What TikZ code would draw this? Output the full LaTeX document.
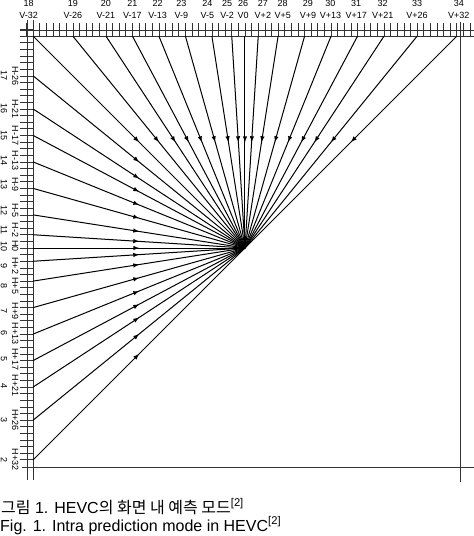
\documentclass[tikz,border=0pt]{standalone}
\usepackage{fontspec}
\setmainfont{Liberation Sans}
\newfontfamily\krfont{Noto Sans CJK KR}
\usetikzlibrary{decorations.markings}

\begin{document}
\begin{tikzpicture}[>=latex, x=6.62pt, y=6.62pt,
rulerline/.style={draw=black!80, line width=1.1pt},
rulertick/.style={draw=black!80, line width=.7pt},
modeline/.style={line width=1pt, postaction={decorate},
  decoration={markings, mark=at position .5 with {\arrow{>}}}},
lab/.style={font=\fontsize{9}{10}\selectfont, inner sep=0pt},
caption/.style={font=\fontsize{16}{18}\selectfont, anchor=base west, inner sep=0pt}]

\useasboundingbox (-245pt,-288pt) rectangle (229pt,248pt);

%%%%%%%% SETTINGS %%%%%%%%%%%%%
\pgfmathsetmacro{\Top}{32}
\pgfmathsetmacro{\Left}{-32}
%%%%%%%%%%%%%%%%%%%%%%%%%%%

\coordinate (c) at (0,0);

\foreach \i in {-33,...,34}{
  \draw[rulertick] (\i,\Top-.2) -- (\i,\Top+2);
}
\foreach \i in {-32,...,33}{
  \draw[rulertick] (\Left-2,\i) -- (\Left+.2,\i);
}
\draw[rulerline] (-34,\Top) -- (34.6,\Top);
\draw[rulerline] (-34,\Top+.9) -- (34.6,\Top+.9);
\draw[rulerline] (\Left,34.4) -- (\Left,-35);
\draw[rulerline] (\Left-.9,34.4) -- (\Left-.9,-35);
\draw[rulerline] (32.6,34.1) -- (32.6,-35.3);
\draw[rulerline] (-33.7,-33.2) -- (34.6,-33.2);

\foreach \m/\o/\l/\t in {18/-32/-32.7/V-32, 19/-26/-26/V-26, 20/-21/-21/V-21,
  21/-17/-17/V-17, 22/-13/-13.2/V-13, 23/-9/-9.6/V-9, 24/-5/-5.7/V-5,
  25/-2/-2.7/V-2, 26/0/-.3/V0, 27/2/2.7/V+2, 28/5/5.7/V+5, 29/9/9.5/V+9,
  30/13/12.9/V+13, 31/17/16.8/V+17, 32/21/20.8/V+21, 33/26/26/V+26, 34/32/32.3/V+32}{
  \coordinate (v\m) at (\o,\Top);
  \draw[modeline] (v\m) -- (c);
  \node[lab] (vl\m) at (\l,35.2) {\t};
  \node[lab] (vn\m) at (\l,36.9) {\m};
}

\foreach \m/\o/\l/\t in {17/26/26/H-26, 16/21/21/H-21, 15/17/17/H-17,
  14/13/13.2/H-13, 13/9/9.6/H-9, 12/5/5.7/H-5, 11/2/2.7/H-2, 10/0/.3/H0,
  9/-2/-2.7/H+2, 8/-5/-5.7/H+5, 7/-9/-9.5/H+9, 6/-13/-12.9/H+13,
  5/-17/-16.8/H+17, 4/-21/-20.8/H+21, 3/-26/-26/H+26, 2/-32/-32/H+32}{
  \coordinate (h\m) at (\Left,\o);
  \draw[modeline] (h\m) -- (c);
  \node[lab, rotate=-90] (hl\m) at (-34.7,\l) {\t};
  \node[lab, rotate=-90] (hn\m) at (-36.4,\l) {\m};
}

\node[caption] (cap1) at (-244pt,-265pt) {{\krfont 그림} 1. HEVC{\krfont 의 화면 내 예측 모드}\textsuperscript{[2]}};
\node[caption] (cap2) at (-245pt,-283pt) {Fig. 1. Intra prediction mode in HEVC\textsuperscript{[2]}};
\end{tikzpicture}
\end{document}
